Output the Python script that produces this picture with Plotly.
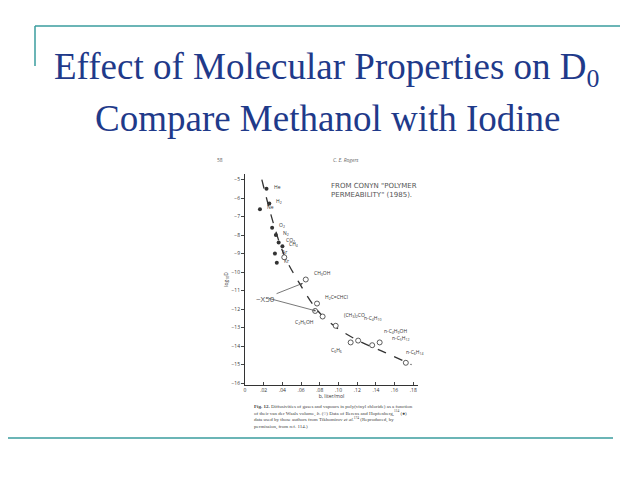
import plotly.graph_objects as go

# filled points (Tikhomirov data)
gas_names = ["He", "H<sub>2</sub>", "Ne", "O<sub>2</sub>", "N<sub>2</sub>", "CO<sub>2</sub>", "CH<sub>4</sub>", "Ar", "Kr"]
gas_b = [0.023, 0.026, 0.016, 0.029, 0.033, 0.036, 0.040, 0.032, 0.034]
gas_logd = [-5.5, -6.3, -6.6, -7.6, -8.0, -8.4, -8.6, -9.0, -9.5]

# open points (Berens and Hopfenberg)
vap_names = ["", "CH<sub>3</sub>OH", "H<sub>2</sub>C=CHCl", "", "C<sub>2</sub>H<sub>5</sub>OH", "(CH<sub>3</sub>)<sub>2</sub>CO",
             "C<sub>6</sub>H<sub>6</sub>", "n-C<sub>4</sub>H<sub>10</sub>", "n-C<sub>4</sub>H<sub>9</sub>OH",
             "n-C<sub>5</sub>H<sub>12</sub>", "n-C<sub>6</sub>H<sub>14</sub>"]
vap_b = [0.042, 0.065, 0.077, 0.075, 0.083, 0.097, 0.113, 0.121, 0.136, 0.144, 0.172]
vap_logd = [-9.2, -10.4, -11.7, -12.1, -12.4, -12.9, -13.8, -13.7, -13.95, -13.8, -14.9]
# label offsets in pixels (dx, dy)
vap_shift = [(0, 0), (6, 6), (6, 6), (0, 0), (-30, -6), (6, 10), (-22, -8), (4, 22), (10, 14), (10, 4), (-2, 10)]

curve_b = [0.018, 0.030, 0.042, 0.057, 0.078, 0.098, 0.121, 0.150, 0.178]
curve_logd = [-5.0, -7.3, -9.1, -10.5, -12.1, -13.0, -13.7, -14.35, -15.0]

x_ticks = [0, 0.02, 0.04, 0.06, 0.08, 0.10, 0.12, 0.14, 0.16, 0.18]
x_labels = ["0", ".02", ".04", ".06", ".08", ".10", ".12", ".14", ".16", ".18"]
y_ticks = list(range(-16, -4))

teal = "#3a9c9e"
navy = "#1f3a8a"
ink = "#333333"

fig = go.Figure()
fig.add_trace(go.Scatter(x=curve_b, y=curve_logd, mode="lines", line=dict(color=ink, width=1.3, dash="dash", shape="spline")))
fig.add_trace(go.Scatter(x=gas_b, y=gas_logd, mode="markers", marker=dict(color=ink, size=4)))
fig.add_trace(go.Scatter(x=vap_b, y=vap_logd, mode="markers",
                         marker=dict(color="white", size=5, line=dict(color=ink, width=0.8))))

for name, b, d in zip(gas_names, gas_b, gas_logd):
    fig.add_annotation(x=b, y=d, text=name, showarrow=False, xanchor="left", xshift=5, yshift=2,
                       font=dict(size=5, color=ink))
for name, b, d, s in zip(vap_names, vap_b, vap_logd, vap_shift):
    if name:
        fig.add_annotation(x=b, y=d, text=name, showarrow=False, xanchor="left", xshift=s[0], yshift=s[1],
                           font=dict(size=5, color=ink))

# handwritten notes
fig.add_annotation(x=0.09, y=-5.6, text="FROM CONYN \"POLYMER<br>PERMEABILITY\" (1985).", showarrow=False,
                   xanchor="left", align="left", font=dict(size=7, color="#555", family="DejaVu Sans"))
fig.add_annotation(x=0.062, y=-10.6, ax=0.022, ay=-11.4, axref="x", ayref="y", text="~X50", arrowhead=2,
                   arrowsize=0.6, arrowwidth=0.8, arrowcolor="#555", font=dict(size=8, color="#555"))
fig.add_annotation(x=0.076, y=-12.1, ax=0.024, ay=-11.4, axref="x", ayref="y", text="", arrowhead=2,
                   arrowsize=0.6, arrowwidth=0.8, arrowcolor="#555")

fig.add_annotation(x=0.325, y=1-147/478, xref="paper", yref="paper", text="58", showarrow=False, font=dict(size=5, color="#666"))
fig.add_annotation(x=0.53, y=1-147/478, xref="paper", yref="paper", text="<i>C. E. Rogers</i>", showarrow=False, font=dict(size=5, color="#666"))
fig.add_annotation(x=0.51, y=1-394/478, xref="paper", yref="paper", yanchor="top", align="left", showarrow=False,
                   text="<b>Fig. 12.</b> Diffusivities of gases and vapours in poly(vinyl chloride) as a function<br>"
                        "of their van der Waals volume, <i>b</i>. (○) Data of Berens and Hopfenberg,<sup>114</sup> (●)<br>"
                        "data used by those authors from Tikhomirov <i>et al.</i><sup>174</sup> (Reproduced, by<br>"
                        "permission, from ref. 114.)",
                   font=dict(size=5, color="#444", family="Liberation Serif"))

# slide decorations
fig.add_shape(type="line", xref="paper", yref="paper", x0=27/638, x1=612/638, y0=1-18/478, y1=1-18/478, line=dict(color=teal, width=1.5))
fig.add_shape(type="line", xref="paper", yref="paper", x0=27/638, x1=27/638, y0=1-18/478, y1=1-58/478, line=dict(color=teal, width=1.5))
fig.add_shape(type="line", xref="paper", yref="paper", x0=0, x1=605/638, y0=1-430/478, y1=1-430/478, line=dict(color=teal, width=1.5))

fig.add_annotation(x=0.5, y=1-62/478, xref="paper", yref="paper", showarrow=False, yanchor="middle",
                   text="Effect of Molecular Properties on D<sub>0</sub>", font=dict(size=37, color=navy, family="Liberation Serif"))
fig.add_annotation(x=0.5, y=1-110/478, xref="paper", yref="paper", showarrow=False, yanchor="middle",
                   text="Compare Methanol with Iodine", font=dict(size=37, color=navy, family="Liberation Serif"))

fig.update_layout(
    width=638, height=478, margin=dict(l=0, r=0, t=0, b=0), showlegend=False,
    paper_bgcolor="white", plot_bgcolor="white",
    xaxis=dict(domain=[237/638, 410/638], range=[0, 0.185], tickvals=x_ticks, ticktext=x_labels,
               showline=True, linecolor=ink, showgrid=False, zeroline=False, ticks="inside", ticklen=3,
               tickfont=dict(size=5, color=ink), title=dict(text="b, liter/mol", font=dict(size=5, color=ink), standoff=0)),
    yaxis=dict(domain=[1-377/478, 1-166/478], range=[-16.1, -4.7], tickvals=y_ticks,
               showline=True, linecolor=ink, showgrid=False, zeroline=False, ticks="outside", ticklen=3,
               tickfont=dict(size=5, color=ink), title=dict(text="log<sub>10</sub>D", font=dict(size=5, color=ink), standoff=2)),
)
fig.write_html("out.html")
